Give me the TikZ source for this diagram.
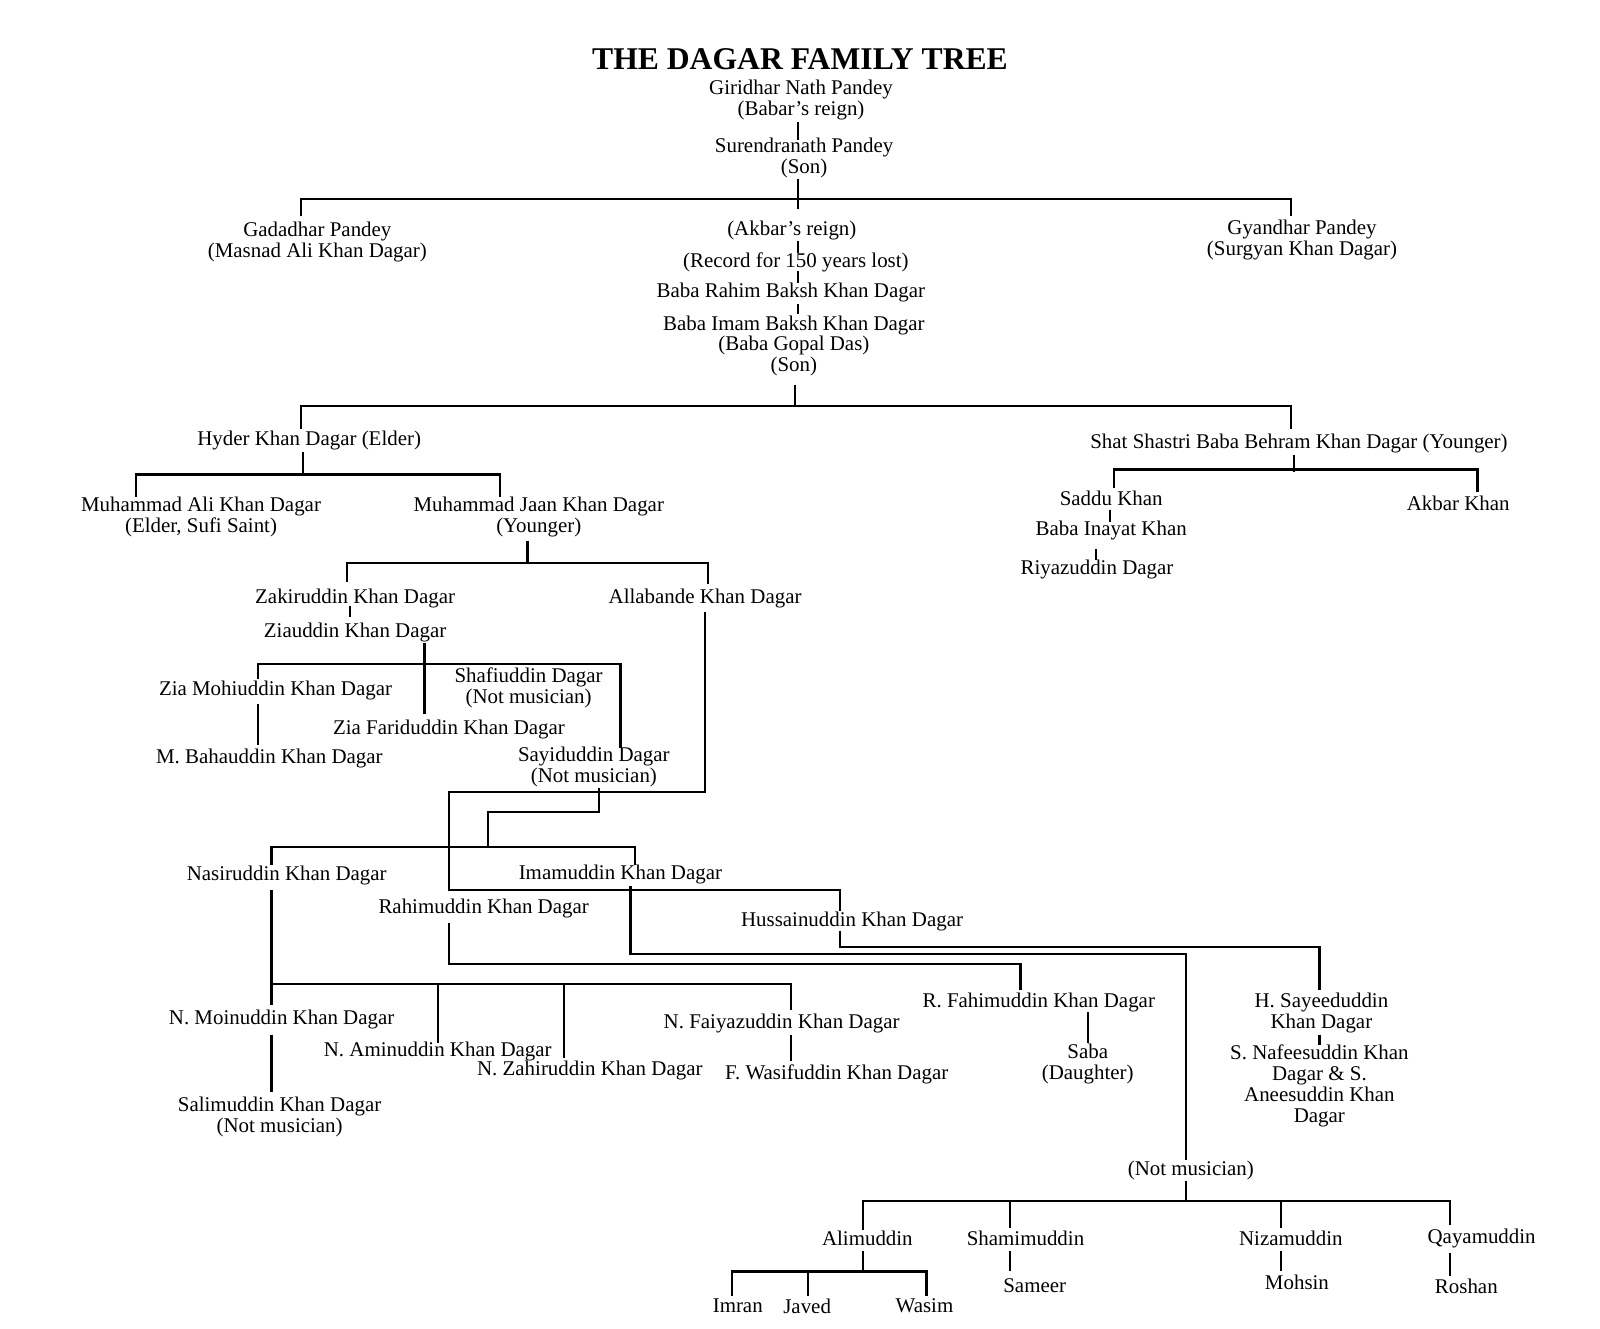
\documentclass[tikz,border=0pt]{standalone}
\usepackage{fontspec}
\setmainfont{Liberation Serif}
\begin{document}
\begin{tikzpicture}[x=1pt,y=-1pt,
  p/.style={inner sep=0pt,align=center,font=\fontsize{20.5}{20.5}\selectfont},
  l/.style={line width=2.2pt}]
\useasboundingbox (0,0) rectangle (1568,1302);
\node[font=\fontsize{31}{32}\selectfont\bfseries] (title) at (784,58) {THE DAGAR FAMILY TREE};
\node[p] (gir) at (785,98) {Giridhar Nath Pandey\\(Babar’s reign)};
\node[p] (sur) at (788,155) {Surendranath Pandey\\(Son)};
\node[p] (gad) at (311,237) {Gadadhar Pandey\\(Masnad Ali Khan Dagar)};
\node[p] (akb) at (776,226) {(Akbar’s reign)};
\node[p] (rec) at (780,257) {(Record for 150 years lost)};
\node[p] (rah) at (775,287) {Baba Rahim Baksh Khan Dagar};
\node[p] (ima) at (778,339) {Baba Imam Baksh Khan Dagar\\(Baba Gopal Das)\\(Son)};
\node[p] (gya) at (1276,235) {Gyandhar Pandey\\(Surgyan Khan Dagar)};
\node[p] (hyd) at (303,432) {Hyder Khan Dagar (Elder)};
\node[p] (sha) at (1273,435) {Shat Shastri Baba Behram Khan Dagar (Younger)};
\node[p] (mal) at (197,507) {Muhammad Ali Khan Dagar\\(Elder, Sufi Saint)};
\node[p] (mja) at (528,507) {Muhammad Jaan Khan Dagar\\(Younger)};
\node[p] (sad) at (1089,488) {Saddu Khan};
\node[p] (akk) at (1429,493) {Akbar Khan};
\node[p] (ina) at (1089,520) {Baba Inayat Khan};
\node[p] (riy) at (1075,558) {Riyazuddin Dagar};
\node[p] (zak) at (348,587) {Zakiruddin Khan Dagar};
\node[p] (all) at (691,587) {Allabande Khan Dagar};
\node[p] (zia) at (348,620) {Ziauddin Khan Dagar};
\node[p] (zmo) at (270,677) {Zia Mohiuddin Khan Dagar};
\node[p] (shf) at (518,674) {Shafiuddin Dagar\\(Not musician)};
\node[p] (zfa) at (440,715) {Zia Fariduddin Khan Dagar};
\node[p] (mba) at (264,743) {M. Bahauddin Khan Dagar};
\node[p] (say) at (582,752) {Sayiduddin Dagar\\(Not musician)};
\node[p] (nas) at (281,858) {Nasiruddin Khan Dagar};
\node[p] (imm) at (608,857) {Imamuddin Khan Dagar};
\node[p] (rhm) at (474,890) {Rahimuddin Khan Dagar};
\node[p] (hus) at (835,903) {Hussainuddin Khan Dagar};
\node[p] (nmo) at (276,999) {N. Moinuddin Khan Dagar};
\node[p] (nam) at (429,1030) {N. Aminuddin Khan Dagar};
\node[p] (nza) at (578,1049) {N. Zahiruddin Khan Dagar};
\node[p] (nfa) at (766,1003) {N. Faiyazuddin Khan Dagar};
\node[p] (fwa) at (820,1053) {F. Wasifuddin Khan Dagar};
\node[p] (rfa) at (1018,982) {R. Fahimuddin Khan Dagar};
\node[p] (sab) at (1066,1043) {Saba\\(Daughter)};
\node[p] (hsa) at (1295,993) {H. Sayeeduddin\\Khan Dagar};
\node[p] (snf) at (1293,1064) {S. Nafeesuddin Khan\\Dagar \& S.\\Aneesuddin Khan\\Dagar};
\node[p] (sal) at (274,1095) {Salimuddin Khan Dagar\\(Not musician)};
\node[p] (ntm) at (1167,1147) {(Not musician)};
\node[p] (ali) at (850,1214) {Alimuddin};
\node[p] (shm) at (1005,1214) {Shamimuddin};
\node[p] (niz) at (1265,1214) {Nizamuddin};
\node[p] (qay) at (1452,1214) {Qayamuddin};
\node[p] (imr) at (723,1280) {Imran};
\node[p] (jav) at (791,1280) {Javed};
\node[p] (was) at (906,1280) {Wasim};
\node[p] (sam) at (1014,1260) {Sameer};
\node[p] (moh) at (1271,1257) {Mohsin};
\node[p] (ros) at (1437,1261) {Roshan};
% connectors
\draw[l] (782,120) -- (782,137);
\draw[l] (295,212) -- (295,195) -- (1265,195) -- (1265,212);
\draw[l] (782,175) -- (782,205);
\draw[l] (782,236) -- (782,248);
\draw[l] (782,266) -- (782,277);
\draw[l] (782,298) -- (782,308);
\draw[l] (295,420) -- (295,398) -- (1265,398) -- (1265,420);
\draw[l] (779,377) -- (779,398);
\draw[l] (297,443) -- (297,465);
\draw[l] (133,487) -- (133,465) -- (490,465) -- (490,487);
\draw[l] (1268,446) -- (1268,463);
\draw[l] (1092,478) -- (1092,460) -- (1448,460) -- (1448,482);
\draw[l] (1088,500) -- (1088,512);
\draw[l] (1074,538) -- (1074,549);
\draw[l] (517,530) -- (517,552);
\draw[l] (340,570) -- (340,552) -- (694,552) -- (694,572);
\draw[l] (343,594) -- (343,605);
\draw[l] (416,630) -- (416,700);
\draw[l] (253,665) -- (253,651) -- (608,651) -- (608,733);
\draw[l] (253,690) -- (253,730);
\draw[l] (691,600) -- (691,776) -- (440,776) -- (440,872) -- (823,872) -- (823,893);
\draw[l] (587,772) -- (587,796) -- (478,796) -- (478,830);
\draw[l] (266,848) -- (266,830) -- (622,830) -- (622,848);
\draw[l] (440,905) -- (440,945) -- (1000,945) -- (1000,970);
\draw[l] (618,868) -- (618,935) -- (1162,935) -- (1162,1137);
\draw[l] (823,912) -- (823,928) -- (1293,928) -- (1293,970);
\draw[l] (1293,1014) -- (1293,1024);
\draw[l] (1066,992) -- (1066,1022);
\draw[l] (266,872) -- (266,985);
\draw[l] (266,1014) -- (266,1070);
\draw[l] (266,964) -- (775,964) -- (775,990);
\draw[l] (429,964) -- (429,1022);
\draw[l] (553,964) -- (553,1037);
\draw[l] (775,1014) -- (775,1040);
\draw[l] (1162,1157) -- (1162,1177);
\draw[l] (846,1205) -- (846,1177) -- (1421,1177) -- (1421,1200);
\draw[l] (990,1177) -- (990,1203);
\draw[l] (1255,1177) -- (1255,1203);
\draw[l] (846,1226) -- (846,1246);
\draw[l] (717,1270) -- (717,1246) -- (908,1246) -- (908,1270);
\draw[l] (792,1246) -- (792,1270);
\draw[l] (990,1226) -- (990,1246);
\draw[l] (1255,1226) -- (1255,1246);
\draw[l] (1421,1228) -- (1421,1250);
\end{tikzpicture}
\end{document}
